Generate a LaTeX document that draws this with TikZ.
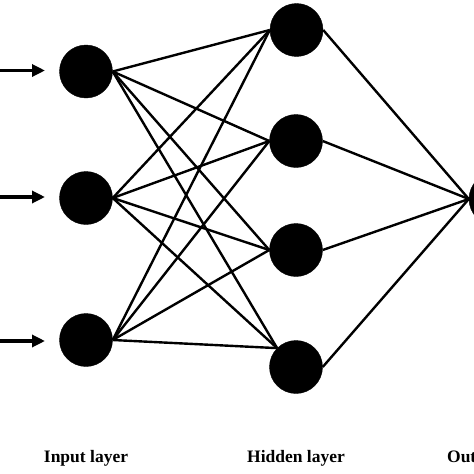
\documentclass[tikz,border=0pt]{standalone}
\usepackage{fontspec}
\setmainfont{Liberation Serif}
\usetikzlibrary{arrows.meta}
\begin{document}
\begin{tikzpicture}[x=1pt,y=-1pt,
  neuron/.style={circle,fill=black,draw=black,minimum size=53pt,inner sep=0pt},
  conn/.style={line width=2.4pt},
  inarrow/.style={line width=3.2pt,-{Triangle[length=13pt,width=12pt]}},
  lbl/.style={font=\fontsize{17.5}{20}\selectfont\bfseries,anchor=base}]
\useasboundingbox (0,0) rectangle (474,474);
\clip (0,0) rectangle (474,474);
\node[neuron] (i1) at (86,71.5) {};
\node[neuron] (i2) at (86,198) {};
\node[neuron] (i3) at (86,340) {};
\node[neuron] (h1) at (296.5,30) {};
\node[neuron] (h2) at (296,141) {};
\node[neuron] (h3) at (296,250) {};
\node[neuron] (h4) at (296,367) {};
\node[neuron] (o) at (495.5,199) {};
\coordinate (a1) at (0,70.5);
\coordinate (a2) at (0,197);
\coordinate (a3) at (0,341);
\coordinate (b1) at (45,70.5);
\coordinate (b2) at (45,197);
\coordinate (b3) at (45,341);
\foreach \k in {1,2,3}{\draw[inarrow] (a\k) -- (b\k);}
\foreach \i in {1,2,3}{
  \draw[conn] (i\i.east) -- (h1.west);
  \draw[conn] (i\i.east) -- (h2.west);
  \draw[conn] (i\i.east) -- (h3.west);
  \draw[conn] (i\i.east) -- (h4.135);
}
\foreach \h in {1,2,3,4}{\draw[conn] (h\h.east) -- (o.west);}
\node[lbl] (l1) at (86,462) {Input layer};
\node[lbl] (l2) at (296,462) {Hidden layer};
\node[lbl] (l3) at (495.5,462) {Output layer};
\end{tikzpicture}
\end{document}
